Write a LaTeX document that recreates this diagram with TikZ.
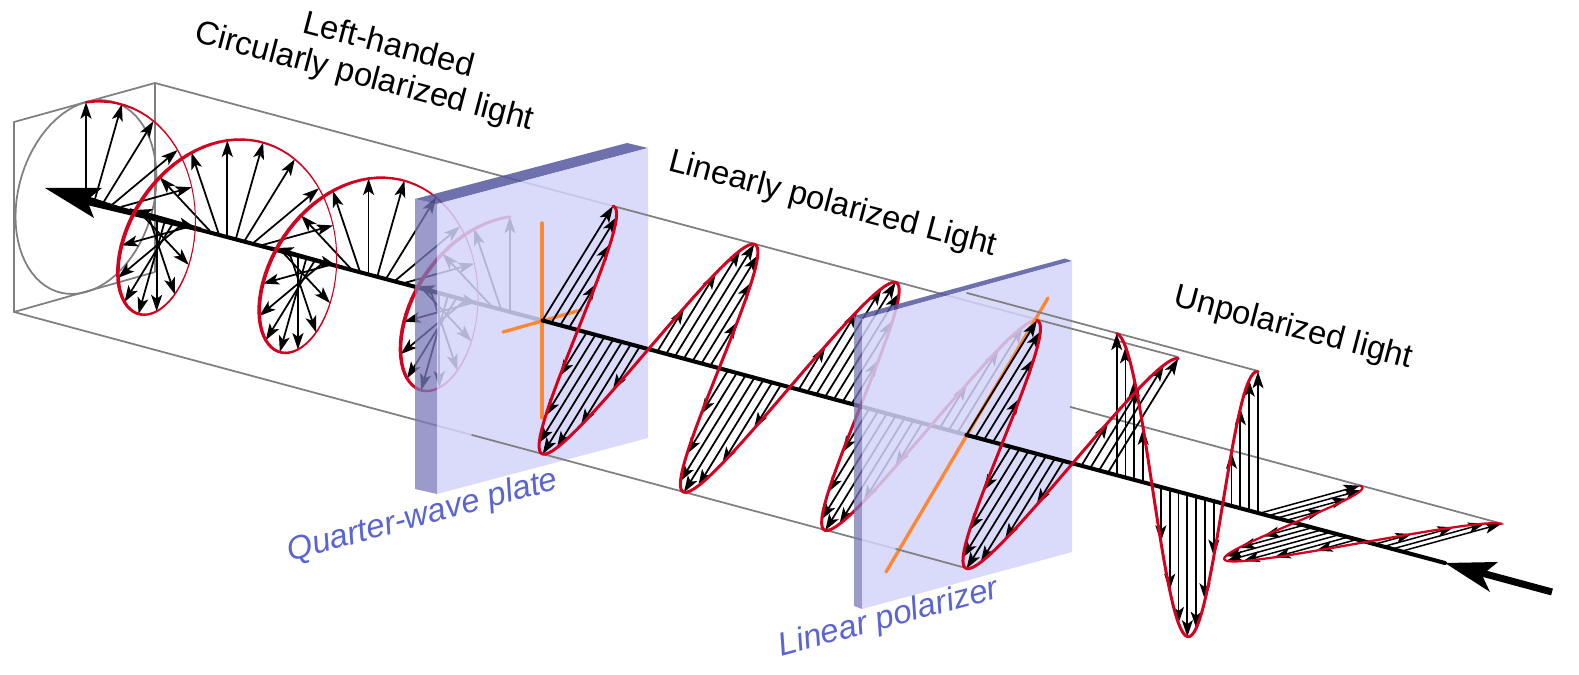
\documentclass[tikz,border=0pt]{standalone}
\usepackage{fontspec}
\setmainfont{Liberation Sans}
\usetikzlibrary{arrows.meta}
\definecolor{wavered}{RGB}{212,0,30}
\definecolor{boxgrey}{RGB}{128,128,128}
\definecolor{axisorange}{RGB}{255,135,50}
\definecolor{labelblue}{RGB}{90,100,210}
\definecolor{platefrontc}{RGB}{211,212,249}
\definecolor{platesidec}{RGB}{122,123,185}
\definecolor{platetopc}{RGB}{85,88,160}
\tikzset{
  declare function={
    axisy(\u)=197+0.27*(\u-85);
    helixbase(\t)=86+\t*0.3925;
    helixx(\t)=helixbase(\t)+70.5*sin(\t);
    helixy(\t)=axisy(helixbase(\t))-95*cos(\t)-19.5*sin(\t);
    linbase(\t)=542.5+\t*0.3925;
    linx(\t)=linbase(\t)+70.5*cos(\t);
    liny(\t)=axisy(linbase(\t))-114.5*cos(\t);
    vertbase(\t)=1116.7+\t*0.3925;
    verty(\t)=axisy(vertbase(\t))-142*cos(\t);
    depthbase(\t)=1258+\t*0.3925;
    depthx(\t)=depthbase(\t)+102*cos(\t);
    depthy(\t)=axisy(depthbase(\t))-28*cos(\t);
  },
  wavearrow/.style={-{Stealth[length=3.3mm,width=2.2mm,inset=0.8mm]},line width=1pt,black},
  redcurve/.style={wavered,line width=1.7pt,line join=round,line cap=round},
  boxline/.style={boxgrey,line width=1pt},
  orangeline/.style={axisorange,line width=1.9pt},
  axisline/.style={black,line width=2.3pt},
  platefront/.style={fill=platefrontc,fill opacity=0.85},
  plateside/.style={fill=platesidec,fill opacity=0.76},
  platetop/.style={fill=platetopc,fill opacity=0.85},
  lighttext/.style={font=\fontsize{18.7}{22}\selectfont,anchor=base,rotate=-14.7},
  platetext/.style={font=\fontsize{18.7}{22}\selectfont\itshape,anchor=base,rotate=15,text=labelblue}
}
\begin{document}
\begin{tikzpicture}[line cap=round,line join=round,x=0.02cm,y=-0.02cm]
\useasboundingbox (0,0) rectangle (1579,675);
% corner points
\coordinate (boxA) at (14,122);
\coordinate (boxB) at (155,83);
\coordinate (boxC) at (155,272);
\coordinate (boxD) at (14,312);
\coordinate (topA) at (613,206);
\coordinate (topB) at (1037,319.5);
\coordinate (topC) at (1178,357);
\coordinate (lowA) at (472,435);
\coordinate (lowB) at (896,549);
\coordinate (lowC) at (966,568);
\coordinate (axisA) at (87,200);
\coordinate (axisB) at (542.5,320.5);
\coordinate (axisC) at (966.5,435);
\coordinate (axisD) at (1445,563);
\coordinate (axisE) at (1552,592);
% left box and circle
\draw[boxline] (boxA) -- (boxB) -- (boxC) -- (boxD) -- cycle;
\draw[boxline] plot[domain=0:360,samples=73,variable=\t] ({86+70.5*sin(\t)},{197-95*cos(\t)-19.5*sin(\t)});
\draw[boxline] (boxB) -- (topA);
\draw[boxline] (boxD) -- (lowA);
% circular part
\draw[axisline] (axisA) -- (axisB);
\fill[black] (87,196) -- (87,205) -- (200,232) -- cycle;
\foreach \k in {0,...,48}{
  \pgfmathsetmacro{\p}{\k*22.5}
  \draw[wavearrow] ({helixbase(\p)},{axisy(helixbase(\p))}) -- ({helixx(\p)},{helixy(\p)});
}
\foreach \k in {0,...,215}{
  \pgfmathsetmacro{\p}{\k*5}
  \pgfmathsetmacro{\q}{\k*5+5}
  \pgfmathsetmacro{\w}{(2.4+1.4*cos(\p-280))*0.567}
  \draw[wavered,line width=\w pt] ({helixx(\p)},{helixy(\p)}) -- ({helixx(\q)},{helixy(\q)});
}
% quarter-wave plate
\fill[plateside] (415,199) -- (437,204) -- (437,494) -- (415,489) -- cycle;
\fill[platetop] (415,199) -- (437,204) -- (648,148) -- (627,143) -- cycle;
\fill[platefront] (437,204) -- (648,148) -- (648,438) -- (437,494) -- cycle;
\draw[orangeline] (542,223) -- (542,418);
\draw[orangeline] (503,332) -- (581,310);
% linear part
\draw[boxline] (topA) -- (topB);
\draw[boxline] (lowA) -- (lowB);
\draw[axisline] (axisB) -- (axisC);
\foreach \k in {0,...,48}{
  \pgfmathtruncatemacro{\m}{mod(\k,8)}
  \ifnum\m=4\else
    \pgfmathsetmacro{\p}{\k*22.5}
    \draw[wavearrow] ({linbase(\p)},{axisy(linbase(\p))}) -- ({linx(\p)},{liny(\p)});
  \fi
}
\draw[redcurve] plot[domain=0:1080,samples=181,variable=\t] ({linx(\t)},{liny(\t)});
% linear polarizer
\fill[plateside] (854,316) -- (862,319) -- (862,609) -- (854,606) -- cycle;
\fill[platetop] (854,316) -- (1065,258.5) -- (1072,261) -- (862,319) -- cycle;
\fill[platefront] (862,319) -- (1072,261) -- (1072,552) -- (862,609) -- cycle;
\draw[orangeline] (886,572) -- (1048,298);
% unpolarized part
\draw[boxline] (topB) -- (topC);
\draw[boxline] (lowB) -- (lowC);
\draw[boxline] (967,293) -- (1258,371);
\draw[boxline] (1070.5,407) -- (1503,524);
\draw[axisline] (axisC) -- (axisD);
\foreach \k in {48,...,64}{
  \pgfmathtruncatemacro{\m}{mod(\k,8)}
  \ifnum\m=4\else
    \pgfmathsetmacro{\p}{\k*22.5}
    \draw[wavearrow] ({linbase(\p)},{axisy(linbase(\p))}) -- ({linx(\p)},{liny(\p)});
  \fi
}
\foreach \k in {0,...,16}{
  \pgfmathtruncatemacro{\m}{mod(\k,8)}
  \ifnum\m=4\else
    \pgfmathsetmacro{\p}{\k*22.5}
    \draw[wavearrow] ({vertbase(\p)},{axisy(vertbase(\p))}) -- ({vertbase(\p)},{verty(\p)});
    \draw[wavearrow,line width=0.85pt] ({depthbase(\p)},{axisy(depthbase(\p))}) -- ({depthx(\p)},{depthy(\p)});
  \fi
}
\draw[redcurve] plot[domain=1080:1440,samples=61,variable=\t] ({linx(\t)},{liny(\t)});
\draw[redcurve] plot[domain=0:360,samples=61,variable=\t] ({vertbase(\t)},{verty(\t)});
\draw[redcurve,line width=1.3pt] plot[domain=0:360,samples=61,variable=\t] ({depthx(\t)},{depthy(\t)});
% big arrows
\fill[black] (45,188) -- (102,188) -- (87,200) -- (94,218) -- cycle;
\fill[black] (1445,563) -- (1498,562) -- (1482,575) -- (1490,592) -- cycle;
\draw[black,line width=4pt,line cap=butt] (1478,572) -- (axisE);
% labels
\node[lighttext] (lefthanded) at (386,54.5) {Left-handed};
\node[lighttext] (circular) at (362,86) {Circularly polarized light};
\node[lighttext] (linear) at (830.5,213) {Linearly polarized Light};
\node[lighttext] (unpolarized) at (1291,337) {Unpolarized light};
\node[platetext] (plateA) at (425,525) {Quarter-wave plate};
\node[platetext] (plateB) at (891,627) {Linear polarizer};
\end{tikzpicture}
\end{document}
